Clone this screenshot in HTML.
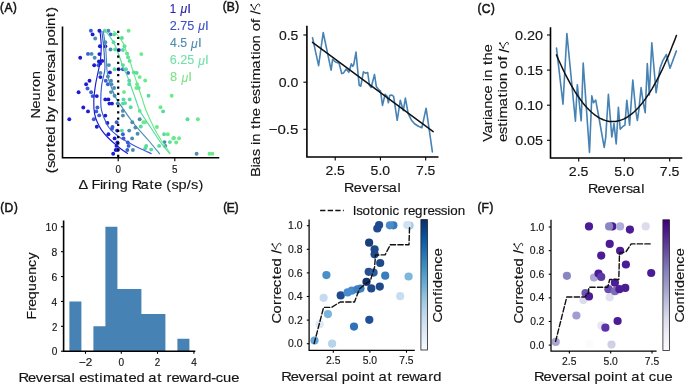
<!DOCTYPE html>
<html><head><meta charset="utf-8"><style>
html,body{margin:0;padding:0;background:#fff;}
svg{display:block;font-family:"Liberation Sans",sans-serif;will-change:transform;}
</style></head><body>
<svg xmlns="http://www.w3.org/2000/svg" width="685" height="385" viewBox="0 0 685 385">
<rect width="685" height="385" fill="#fff"/>
<text x="0.01" y="11.10" font-size="13.00" font-weight="normal" font-style="normal" fill="#141414" textLength="3.84" lengthAdjust="spacingAndGlyphs" stroke="#141414" stroke-width="0.55">(</text>
<text x="13.09" y="11.10" font-size="13.00" font-weight="normal" font-style="normal" fill="#141414" textLength="3.84" lengthAdjust="spacingAndGlyphs" stroke="#141414" stroke-width="0.55">)</text>
<text x="4.43" y="12.00" font-size="13.00" font-weight="normal" font-style="normal" fill="#141414" textLength="8.06" lengthAdjust="spacingAndGlyphs" stroke="#141414" stroke-width="0.55">A</text>
<text x="222.81" y="10.30" font-size="13.00" font-weight="normal" font-style="normal" fill="#141414" textLength="3.84" lengthAdjust="spacingAndGlyphs" stroke="#141414" stroke-width="0.55">(</text>
<text x="235.29" y="10.30" font-size="13.00" font-weight="normal" font-style="normal" fill="#141414" textLength="3.84" lengthAdjust="spacingAndGlyphs" stroke="#141414" stroke-width="0.55">)</text>
<text x="226.75" y="11.20" font-size="13.00" font-weight="normal" font-style="normal" fill="#141414" textLength="8.06" lengthAdjust="spacingAndGlyphs" stroke="#141414" stroke-width="0.55">B</text>
<text x="477.61" y="11.60" font-size="13.00" font-weight="normal" font-style="normal" fill="#141414" textLength="3.84" lengthAdjust="spacingAndGlyphs" stroke="#141414" stroke-width="0.55">(</text>
<text x="490.99" y="11.60" font-size="13.00" font-weight="normal" font-style="normal" fill="#141414" textLength="3.84" lengthAdjust="spacingAndGlyphs" stroke="#141414" stroke-width="0.55">)</text>
<text x="481.76" y="12.50" font-size="13.00" font-weight="normal" font-style="normal" fill="#141414" textLength="8.73" lengthAdjust="spacingAndGlyphs" stroke="#141414" stroke-width="0.55">C</text>
<text x="0.31" y="211.00" font-size="13.00" font-weight="normal" font-style="normal" fill="#141414" textLength="3.84" lengthAdjust="spacingAndGlyphs" stroke="#141414" stroke-width="0.55">(</text>
<text x="14.09" y="211.00" font-size="13.00" font-weight="normal" font-style="normal" fill="#141414" textLength="3.84" lengthAdjust="spacingAndGlyphs" stroke="#141414" stroke-width="0.55">)</text>
<text x="4.54" y="211.90" font-size="13.00" font-weight="normal" font-style="normal" fill="#141414" textLength="8.73" lengthAdjust="spacingAndGlyphs" stroke="#141414" stroke-width="0.55">D</text>
<text x="223.31" y="211.10" font-size="13.00" font-weight="normal" font-style="normal" fill="#141414" textLength="3.84" lengthAdjust="spacingAndGlyphs" stroke="#141414" stroke-width="0.55">(</text>
<text x="234.79" y="211.10" font-size="13.00" font-weight="normal" font-style="normal" fill="#141414" textLength="3.84" lengthAdjust="spacingAndGlyphs" stroke="#141414" stroke-width="0.55">)</text>
<text x="226.69" y="212.00" font-size="13.00" font-weight="normal" font-style="normal" fill="#141414" textLength="8.06" lengthAdjust="spacingAndGlyphs" stroke="#141414" stroke-width="0.55">E</text>
<text x="477.51" y="211.40" font-size="13.00" font-weight="normal" font-style="normal" fill="#141414" textLength="3.84" lengthAdjust="spacingAndGlyphs" stroke="#141414" stroke-width="0.55">(</text>
<text x="489.49" y="211.40" font-size="13.00" font-weight="normal" font-style="normal" fill="#141414" textLength="3.84" lengthAdjust="spacingAndGlyphs" stroke="#141414" stroke-width="0.55">)</text>
<text x="481.47" y="212.30" font-size="13.00" font-weight="normal" font-style="normal" fill="#141414" textLength="7.39" lengthAdjust="spacingAndGlyphs" stroke="#141414" stroke-width="0.55">F</text>
<circle cx="92.6" cy="34.4" r="1.95" fill="#1c1cd0"/>
<circle cx="99.4" cy="30.8" r="1.95" fill="#1c1cd0"/>
<circle cx="99.9" cy="46.3" r="1.95" fill="#1c1cd0"/>
<circle cx="80.2" cy="57.8" r="1.95" fill="#1c1cd0"/>
<circle cx="99.4" cy="54.1" r="1.95" fill="#1c1cd0"/>
<circle cx="98.9" cy="61.4" r="1.95" fill="#1c1cd0"/>
<circle cx="105.3" cy="46.3" r="1.95" fill="#1c1cd0"/>
<circle cx="102.2" cy="60.9" r="1.95" fill="#1c1cd0"/>
<circle cx="118.8" cy="50.0" r="1.95" fill="#1c1cd0"/>
<circle cx="94.2" cy="65.3" r="1.95" fill="#1c1cd0"/>
<circle cx="100.4" cy="77.1" r="1.95" fill="#1c1cd0"/>
<circle cx="89.5" cy="80.7" r="1.95" fill="#1c1cd0"/>
<circle cx="86.1" cy="84.3" r="1.95" fill="#1c1cd0"/>
<circle cx="78.6" cy="92.3" r="1.95" fill="#1c1cd0"/>
<circle cx="96.8" cy="96.1" r="1.95" fill="#1c1cd0"/>
<circle cx="118.6" cy="69.3" r="1.95" fill="#1c1cd0"/>
<circle cx="109.9" cy="72.4" r="1.95" fill="#1c1cd0"/>
<circle cx="105.3" cy="99.4" r="1.95" fill="#1c1cd0"/>
<circle cx="108.4" cy="99.4" r="1.95" fill="#1c1cd0"/>
<circle cx="83.3" cy="107.5" r="1.95" fill="#1c1cd0"/>
<circle cx="88.0" cy="111.4" r="1.95" fill="#1c1cd0"/>
<circle cx="69.3" cy="119.2" r="1.95" fill="#1c1cd0"/>
<circle cx="96.8" cy="126.8" r="1.95" fill="#1c1cd0"/>
<circle cx="109.4" cy="103.6" r="1.95" fill="#1c1cd0"/>
<circle cx="112.0" cy="103.6" r="1.95" fill="#1c1cd0"/>
<circle cx="105.3" cy="115.6" r="1.95" fill="#1c1cd0"/>
<circle cx="107.4" cy="122.9" r="1.95" fill="#1c1cd0"/>
<circle cx="117.2" cy="130.6" r="1.95" fill="#1c1cd0"/>
<circle cx="108.4" cy="134.3" r="1.95" fill="#1c1cd0"/>
<circle cx="114.6" cy="138.4" r="1.95" fill="#1c1cd0"/>
<circle cx="117.4" cy="142.5" r="1.95" fill="#1c1cd0"/>
<circle cx="116.5" cy="145.9" r="1.95" fill="#1c1cd0"/>
<circle cx="115.7" cy="150.0" r="1.95" fill="#1c1cd0"/>
<circle cx="117.8" cy="150.0" r="1.95" fill="#1c1cd0"/>
<circle cx="113.2" cy="153.7" r="1.95" fill="#1c1cd0"/>
<circle cx="100.1" cy="63.6" r="1.95" fill="#1c1cd0"/>
<circle cx="90.9" cy="30.8" r="1.95" fill="#3b5bd6"/>
<circle cx="88.0" cy="53.9" r="1.95" fill="#3b5bd6"/>
<circle cx="110.5" cy="34.4" r="1.95" fill="#3b5bd6"/>
<circle cx="98.4" cy="65.3" r="1.95" fill="#3b5bd6"/>
<circle cx="87.5" cy="88.5" r="1.95" fill="#3b5bd6"/>
<circle cx="91.1" cy="92.3" r="1.95" fill="#3b5bd6"/>
<circle cx="92.6" cy="96.1" r="1.95" fill="#3b5bd6"/>
<circle cx="122.9" cy="69.3" r="1.95" fill="#3b5bd6"/>
<circle cx="128.1" cy="72.9" r="1.95" fill="#3b5bd6"/>
<circle cx="105.8" cy="80.7" r="1.95" fill="#3b5bd6"/>
<circle cx="107.9" cy="84.3" r="1.95" fill="#3b5bd6"/>
<circle cx="97.4" cy="107.5" r="1.95" fill="#3b5bd6"/>
<circle cx="96.3" cy="111.4" r="1.95" fill="#3b5bd6"/>
<circle cx="99.2" cy="115.4" r="1.95" fill="#3b5bd6"/>
<circle cx="93.8" cy="119.2" r="1.95" fill="#3b5bd6"/>
<circle cx="116.7" cy="122.3" r="1.95" fill="#3b5bd6"/>
<circle cx="112.5" cy="127.0" r="1.95" fill="#3b5bd6"/>
<circle cx="122.9" cy="134.3" r="1.95" fill="#3b5bd6"/>
<circle cx="123.5" cy="138.4" r="1.95" fill="#3b5bd6"/>
<circle cx="112.0" cy="128.8" r="1.95" fill="#3b5bd6"/>
<circle cx="127.8" cy="142.5" r="1.95" fill="#3b5bd6"/>
<circle cx="128.6" cy="145.9" r="1.95" fill="#3b5bd6"/>
<circle cx="127.3" cy="150.0" r="1.95" fill="#3b5bd6"/>
<circle cx="95.2" cy="38.5" r="1.95" fill="#4a8db3"/>
<circle cx="91.6" cy="53.9" r="1.95" fill="#4a8db3"/>
<circle cx="94.7" cy="57.8" r="1.95" fill="#4a8db3"/>
<circle cx="108.4" cy="30.8" r="1.95" fill="#4a8db3"/>
<circle cx="105.3" cy="42.2" r="1.95" fill="#4a8db3"/>
<circle cx="110.5" cy="49.5" r="1.95" fill="#4a8db3"/>
<circle cx="100.4" cy="72.9" r="1.95" fill="#4a8db3"/>
<circle cx="108.9" cy="65.1" r="1.95" fill="#4a8db3"/>
<circle cx="107.9" cy="76.5" r="1.95" fill="#4a8db3"/>
<circle cx="111.0" cy="80.7" r="1.95" fill="#4a8db3"/>
<circle cx="111.5" cy="84.3" r="1.95" fill="#4a8db3"/>
<circle cx="114.1" cy="88.0" r="1.95" fill="#4a8db3"/>
<circle cx="111.0" cy="92.1" r="1.95" fill="#4a8db3"/>
<circle cx="114.6" cy="95.8" r="1.95" fill="#4a8db3"/>
<circle cx="117.7" cy="103.6" r="1.95" fill="#4a8db3"/>
<circle cx="122.9" cy="110.9" r="1.95" fill="#4a8db3"/>
<circle cx="122.9" cy="115.6" r="1.95" fill="#4a8db3"/>
<circle cx="132.3" cy="122.3" r="1.95" fill="#4a8db3"/>
<circle cx="129.2" cy="130.6" r="1.95" fill="#4a8db3"/>
<circle cx="135.4" cy="127.5" r="1.95" fill="#4a8db3"/>
<circle cx="139.7" cy="119.2" r="1.95" fill="#4a8db3"/>
<circle cx="137.6" cy="133.8" r="1.95" fill="#4a8db3"/>
<circle cx="132.1" cy="138.4" r="1.95" fill="#4a8db3"/>
<circle cx="132.9" cy="150.0" r="1.95" fill="#4a8db3"/>
<circle cx="164.5" cy="142.1" r="1.95" fill="#4a8db3"/>
<circle cx="165.3" cy="145.9" r="1.95" fill="#4a8db3"/>
<circle cx="196.6" cy="153.7" r="1.95" fill="#4a8db3"/>
<circle cx="104.8" cy="30.8" r="1.95" fill="#58dba0"/>
<circle cx="114.1" cy="34.4" r="1.95" fill="#58dba0"/>
<circle cx="121.9" cy="38.0" r="1.95" fill="#58dba0"/>
<circle cx="113.6" cy="42.2" r="1.95" fill="#58dba0"/>
<circle cx="124.5" cy="46.3" r="1.95" fill="#58dba0"/>
<circle cx="115.1" cy="49.5" r="1.95" fill="#58dba0"/>
<circle cx="122.9" cy="50.0" r="1.95" fill="#58dba0"/>
<circle cx="127.1" cy="53.6" r="1.95" fill="#58dba0"/>
<circle cx="128.1" cy="57.2" r="1.95" fill="#58dba0"/>
<circle cx="129.7" cy="60.9" r="1.95" fill="#58dba0"/>
<circle cx="114.6" cy="69.3" r="1.95" fill="#58dba0"/>
<circle cx="126.1" cy="69.3" r="1.95" fill="#58dba0"/>
<circle cx="122.9" cy="65.1" r="1.95" fill="#58dba0"/>
<circle cx="133.8" cy="72.4" r="1.95" fill="#58dba0"/>
<circle cx="129.2" cy="80.7" r="1.95" fill="#58dba0"/>
<circle cx="129.2" cy="84.3" r="1.95" fill="#58dba0"/>
<circle cx="123.5" cy="99.4" r="1.95" fill="#58dba0"/>
<circle cx="129.7" cy="99.4" r="1.95" fill="#58dba0"/>
<circle cx="136.6" cy="72.9" r="1.95" fill="#58dba0"/>
<circle cx="138.7" cy="88.0" r="1.95" fill="#58dba0"/>
<circle cx="148.5" cy="95.8" r="1.95" fill="#58dba0"/>
<circle cx="122.9" cy="103.6" r="1.95" fill="#58dba0"/>
<circle cx="125.0" cy="103.1" r="1.95" fill="#58dba0"/>
<circle cx="130.7" cy="107.3" r="1.95" fill="#58dba0"/>
<circle cx="121.9" cy="130.6" r="1.95" fill="#58dba0"/>
<circle cx="163.1" cy="111.4" r="1.95" fill="#58dba0"/>
<circle cx="140.8" cy="126.5" r="1.95" fill="#58dba0"/>
<circle cx="164.1" cy="134.3" r="1.95" fill="#58dba0"/>
<circle cx="187.5" cy="119.2" r="1.95" fill="#58dba0"/>
<circle cx="173.9" cy="138.0" r="1.95" fill="#58dba0"/>
<circle cx="146.2" cy="145.9" r="1.95" fill="#58dba0"/>
<circle cx="145.3" cy="148.3" r="1.95" fill="#58dba0"/>
<circle cx="151.2" cy="149.6" r="1.95" fill="#58dba0"/>
<circle cx="169.9" cy="142.1" r="1.95" fill="#58dba0"/>
<circle cx="159.1" cy="145.9" r="1.95" fill="#58dba0"/>
<circle cx="128.6" cy="30.8" r="1.95" fill="#6aeb88"/>
<circle cx="141.3" cy="54.1" r="1.95" fill="#6aeb88"/>
<circle cx="124.0" cy="92.1" r="1.95" fill="#6aeb88"/>
<circle cx="136.4" cy="88.0" r="1.95" fill="#6aeb88"/>
<circle cx="139.7" cy="77.1" r="1.95" fill="#6aeb88"/>
<circle cx="145.2" cy="80.5" r="1.95" fill="#6aeb88"/>
<circle cx="137.1" cy="84.3" r="1.95" fill="#6aeb88"/>
<circle cx="171.7" cy="95.8" r="1.95" fill="#6aeb88"/>
<circle cx="160.5" cy="107.3" r="1.95" fill="#6aeb88"/>
<circle cx="139.7" cy="110.9" r="1.95" fill="#6aeb88"/>
<circle cx="143.4" cy="122.3" r="1.95" fill="#6aeb88"/>
<circle cx="144.9" cy="122.3" r="1.95" fill="#6aeb88"/>
<circle cx="156.9" cy="127.0" r="1.95" fill="#6aeb88"/>
<circle cx="167.8" cy="134.3" r="1.95" fill="#6aeb88"/>
<circle cx="173.3" cy="138.4" r="1.95" fill="#6aeb88"/>
<circle cx="197.9" cy="119.2" r="1.95" fill="#6aeb88"/>
<circle cx="179.1" cy="138.2" r="1.95" fill="#6aeb88"/>
<circle cx="176.2" cy="142.5" r="1.95" fill="#6aeb88"/>
<circle cx="209.5" cy="153.7" r="1.95" fill="#6aeb88"/>
<circle cx="212.4" cy="153.7" r="1.95" fill="#6aeb88"/>
<path d="M100.00 31.00 C100.20 33.33 101.12 40.17 101.20 45.00 C101.28 49.83 100.95 55.83 100.50 60.00 C100.05 64.17 99.35 65.73 98.50 70.00 C97.65 74.27 96.18 80.38 95.40 85.60 C94.62 90.82 93.93 96.60 93.80 101.30 C93.67 106.00 93.95 110.17 94.60 113.80 C95.25 117.43 96.53 120.37 97.70 123.10 C98.87 125.83 99.98 127.88 101.60 130.20 C103.22 132.52 105.17 134.70 107.40 137.00 C109.63 139.30 112.73 142.00 115.00 144.00 C117.27 146.00 118.87 147.38 121.00 149.00 C123.13 150.62 126.67 152.92 127.80 153.70" fill="none" stroke="#1c1cd0" stroke-width="1.15" stroke-linejoin="round"/>
<path d="M101.80 31.00 C102.10 33.50 103.13 41.17 103.60 46.00 C104.07 50.83 104.40 56.00 104.60 60.00 C104.80 64.00 105.30 65.73 104.80 70.00 C104.30 74.27 102.27 80.38 101.60 85.60 C100.93 90.82 100.80 97.13 100.80 101.30 C100.80 105.47 100.68 106.97 101.60 110.60 C102.52 114.23 104.73 119.83 106.30 123.10 C107.87 126.37 108.75 127.82 111.00 130.20 C113.25 132.58 117.47 135.68 119.80 137.40 C122.13 139.12 121.97 138.82 125.00 140.50 C128.03 142.18 133.57 145.30 138.00 147.50 C142.43 149.70 149.33 152.67 151.60 153.70" fill="none" stroke="#3b5bd6" stroke-width="1.15" stroke-linejoin="round"/>
<path d="M103.20 31.00 C103.58 33.50 104.97 41.33 105.50 46.00 C106.03 50.67 106.15 55.00 106.40 59.00 C106.65 63.00 106.67 66.73 107.00 70.00 C107.33 73.27 107.57 75.43 108.40 78.60 C109.23 81.77 110.53 85.37 112.00 89.00 C113.47 92.63 115.20 96.90 117.20 100.40 C119.20 103.90 121.70 106.73 124.00 110.00 C126.30 113.27 128.67 116.90 131.00 120.00 C133.33 123.10 135.00 125.10 138.00 128.60 C141.00 132.10 145.35 136.73 149.00 141.00 C152.65 145.27 158.08 152.00 159.90 154.20" fill="none" stroke="#4a8db3" stroke-width="1.15" stroke-linejoin="round"/>
<path d="M105.00 30.80 C105.67 31.57 107.60 33.48 109.00 35.40 C110.40 37.32 112.15 40.12 113.40 42.30 C114.65 44.48 115.65 46.55 116.50 48.50 C117.35 50.45 117.73 51.88 118.50 54.00 C119.27 56.12 120.32 58.87 121.10 61.20 C121.88 63.53 122.20 65.60 123.20 68.00 C124.20 70.40 125.58 71.95 127.10 75.60 C128.62 79.25 130.83 85.83 132.30 89.90 C133.77 93.97 134.72 96.65 135.90 100.00 C137.08 103.35 137.88 106.83 139.40 110.00 C140.92 113.17 143.07 116.00 145.00 119.00 C146.93 122.00 148.68 124.50 151.00 128.00 C153.32 131.50 156.73 136.83 158.90 140.00 C161.07 143.17 162.17 144.72 164.00 147.00 C165.83 149.28 168.92 152.58 169.90 153.70" fill="none" stroke="#58dba0" stroke-width="1.15" stroke-linejoin="round"/>
<path d="M113.50 30.80 C114.17 31.50 116.03 33.20 117.50 35.00 C118.97 36.80 121.05 39.60 122.30 41.60 C123.55 43.60 124.23 44.93 125.00 47.00 C125.77 49.07 126.07 51.63 126.90 54.00 C127.73 56.37 129.15 58.87 130.00 61.20 C130.85 63.53 131.18 65.38 132.00 68.00 C132.82 70.62 133.55 72.82 134.90 76.90 C136.25 80.98 138.82 88.65 140.10 92.50 C141.38 96.35 141.63 97.08 142.60 100.00 C143.57 102.92 143.98 105.33 145.90 110.00 C147.82 114.67 151.58 123.00 154.10 128.00 C156.62 133.00 159.02 136.83 161.00 140.00 C162.98 143.17 164.45 144.72 166.00 147.00 C167.55 149.28 169.58 152.58 170.30 153.70" fill="none" stroke="#6aeb88" stroke-width="1.15" stroke-linejoin="round"/>
<line x1="118.2" y1="30.7" x2="118.2" y2="157.0" stroke="#000" stroke-width="2.2" stroke-dasharray="2.2 4.0"/>
<path d="M62.50 26.50 L62.50 157.70 L219.30 157.70" fill="none" stroke="#000" stroke-width="1.6" stroke-linejoin="miter" stroke-linecap="butt"/>
<line x1="118.20" y1="157.70" x2="118.20" y2="161.20" stroke="#000" stroke-width="1.1" />
<line x1="174.80" y1="157.70" x2="174.80" y2="161.20" stroke="#000" stroke-width="1.1" />
<text x="115.46" y="172.80" font-size="10.30" font-weight="normal" font-style="normal" fill="#141414" textLength="5.45" lengthAdjust="spacingAndGlyphs" stroke="#141414" stroke-width="0.14">0</text>
<text x="172.05" y="172.80" font-size="10.30" font-weight="normal" font-style="normal" fill="#141414" textLength="5.50" lengthAdjust="spacingAndGlyphs" stroke="#141414" stroke-width="0.14">5</text>
<g transform="translate(79.10 188.60) scale(1.0821 1)"><text x="-0.46 8.17 11.43 19.22 21.97 26.69 29.99 37.60 45.21 48.64 57.01 65.13 69.47 76.85 80.52 85.33 91.93 99.60 103.42 110.34" y="0" font-size="13.40" font-weight="normal" font-style="normal" fill="#141414" stroke="#141414" stroke-width="0.14">Δ Firing Rate (sp/s)</text></g>
<g transform="translate(40.20 116.90) rotate(-90) scale(1.0731 1)"><text x="-1.50 7.91 15.38 23.44 27.94 35.22" y="0" font-size="13.40" font-weight="normal" font-style="normal" fill="#141414" stroke="#141414" stroke-width="0.14">Neuron</text></g>
<g transform="translate(54.50 171.80) rotate(-90) scale(1.1162 1)"><text x="-1.27 3.32 9.48 17.10 21.92 26.02 33.19 40.64 44.36 51.78 58.62 62.69 67.03 74.10 80.83 88.43 92.62 98.31 106.21 109.29 113.00 120.24 127.66 130.74 138.50 143.08" y="0" font-size="13.40" font-weight="normal" font-style="normal" fill="#141414" stroke="#141414" stroke-width="0.14">(sorted by reversal point)</text></g>
<text x="169.74" y="13.00" font-size="12.10" font-weight="normal" font-style="normal" fill="#2a20a8" textLength="6.39" lengthAdjust="spacingAndGlyphs" stroke="#2a20a8" stroke-width="0.1">1</text>
<text x="180.44" y="13.30" font-size="12.20" font-weight="normal" font-style="italic" fill="#2a20a8" textLength="6.67" lengthAdjust="spacingAndGlyphs" stroke="#2a20a8" stroke-width="0.1">μ</text>
<text x="187.56" y="13.00" font-size="12.20" font-weight="normal" font-style="normal" fill="#2a20a8" textLength="3.21" lengthAdjust="spacingAndGlyphs" stroke="#2a20a8" stroke-width="0.1">l</text>
<g transform="translate(170.60 30.10) scale(1.0439 1)"><text x="-0.93 5.94 9.27 15.98" y="0" font-size="12.10" font-weight="normal" font-style="normal" fill="#3d4fc8" stroke="#3d4fc8" stroke-width="0.1">2.75</text></g>
<text x="198.24" y="30.40" font-size="12.20" font-weight="normal" font-style="italic" fill="#3d4fc8" textLength="6.67" lengthAdjust="spacingAndGlyphs" stroke="#3d4fc8" stroke-width="0.1">μ</text>
<text x="205.36" y="30.10" font-size="12.20" font-weight="normal" font-style="normal" fill="#3d4fc8" textLength="3.21" lengthAdjust="spacingAndGlyphs" stroke="#3d4fc8" stroke-width="0.1">l</text>
<g transform="translate(170.60 47.20) scale(1.0137 1)"><text x="-0.49 6.20 9.51" y="0" font-size="12.10" font-weight="normal" font-style="normal" fill="#4d8bad" stroke="#4d8bad" stroke-width="0.1">4.5</text></g>
<text x="191.04" y="47.50" font-size="12.20" font-weight="normal" font-style="italic" fill="#4d8bad" textLength="6.67" lengthAdjust="spacingAndGlyphs" stroke="#4d8bad" stroke-width="0.1">μ</text>
<text x="198.16" y="47.20" font-size="12.20" font-weight="normal" font-style="normal" fill="#4d8bad" textLength="3.21" lengthAdjust="spacingAndGlyphs" stroke="#4d8bad" stroke-width="0.1">l</text>
<g transform="translate(170.60 64.30) scale(1.0414 1)"><text x="-0.75 5.99 9.22 16.03" y="0" font-size="12.10" font-weight="normal" font-style="normal" fill="#72e1aa" stroke="#72e1aa" stroke-width="0.1">6.25</text></g>
<text x="198.24" y="64.60" font-size="12.20" font-weight="normal" font-style="italic" fill="#72e1aa" textLength="6.67" lengthAdjust="spacingAndGlyphs" stroke="#72e1aa" stroke-width="0.1">μ</text>
<text x="205.36" y="64.30" font-size="12.20" font-weight="normal" font-style="normal" fill="#72e1aa" textLength="3.21" lengthAdjust="spacingAndGlyphs" stroke="#72e1aa" stroke-width="0.1">l</text>
<text x="170.03" y="81.40" font-size="12.10" font-weight="normal" font-style="normal" fill="#7ee288" textLength="7.10" lengthAdjust="spacingAndGlyphs" stroke="#7ee288" stroke-width="0.1">8</text>
<text x="181.44" y="81.70" font-size="12.20" font-weight="normal" font-style="italic" fill="#7ee288" textLength="6.67" lengthAdjust="spacingAndGlyphs" stroke="#7ee288" stroke-width="0.1">μ</text>
<text x="188.56" y="81.40" font-size="12.20" font-weight="normal" font-style="normal" fill="#7ee288" textLength="3.21" lengthAdjust="spacingAndGlyphs" stroke="#7ee288" stroke-width="0.1">l</text>
<path d="M312.5 37.7 L318.6 65.7 L323.2 32.5 L331.1 70.2 L332.6 59.3 L335.5 62.0 L339.1 63.2 L341.7 73.6 L343.6 72.9 L346.2 69.0 L348.8 72.3 L351.4 63.8 L352.7 66.4 L353.7 64.8 L356.0 52.1 L357.9 72.3 L359.2 85.3 L360.8 86.2 L363.4 71.9 L365.4 73.2 L367.7 72.5 L369.5 85.5 L371.2 87.5 L374.5 74.5 L376.4 86.8 L379.0 90.0 L380.5 91.0 L382.5 105.4 L385.1 94.3 L387.1 96.3 L388.4 102.8 L389.7 95.6 L391.6 95.0 L393.6 96.3 L397.2 120.3 L398.8 110.0 L400.3 100.2 L403.3 110.6 L405.4 98.1 L408.2 113.7 L411.3 119.9 L414.5 123.8 L418.4 126.2 L421.9 127.7 L426.1 108.2 L428.5 124.6 L432.4 151.9" fill="none" stroke="#4682b4" stroke-width="1.6" stroke-linejoin="round" stroke-linecap="round" />
<path d="M312.5 42.3 L433.2 131.6" fill="none" stroke="#111" stroke-width="1.5" stroke-linejoin="round" stroke-linecap="round" />
<path d="M306.90 25.80 L306.90 157.00 L438.50 157.00" fill="none" stroke="#000" stroke-width="1.6" stroke-linejoin="miter" stroke-linecap="butt"/>
<line x1="303.40" y1="35.00" x2="306.90" y2="35.00" stroke="#000" stroke-width="1.1" />
<line x1="303.40" y1="82.20" x2="306.90" y2="82.20" stroke="#000" stroke-width="1.1" />
<line x1="303.40" y1="129.30" x2="306.90" y2="129.30" stroke="#000" stroke-width="1.1" />
<line x1="335.20" y1="157.00" x2="335.20" y2="160.50" stroke="#000" stroke-width="1.1" />
<line x1="380.40" y1="157.00" x2="380.40" y2="160.50" stroke="#000" stroke-width="1.1" />
<line x1="425.70" y1="157.00" x2="425.70" y2="160.50" stroke="#000" stroke-width="1.1" />
<text x="278.95" y="39.70" font-size="13.20" font-weight="normal" font-style="normal" fill="#141414" textLength="19.41" lengthAdjust="spacingAndGlyphs" stroke="#141414" stroke-width="0.14">0.5</text>
<text x="278.69" y="86.90" font-size="13.20" font-weight="normal" font-style="normal" fill="#141414" textLength="19.60" lengthAdjust="spacingAndGlyphs" stroke="#141414" stroke-width="0.14">0.0</text>
<text x="268.66" y="134.00" font-size="13.20" font-weight="normal" font-style="normal" fill="#141414" textLength="29.73" lengthAdjust="spacingAndGlyphs" stroke="#141414" stroke-width="0.14">−0.5</text>
<text x="325.42" y="175.10" font-size="13.20" font-weight="normal" font-style="normal" fill="#141414" textLength="19.42" lengthAdjust="spacingAndGlyphs" stroke="#141414" stroke-width="0.14">2.5</text>
<text x="370.63" y="175.10" font-size="13.20" font-weight="normal" font-style="normal" fill="#141414" textLength="19.47" lengthAdjust="spacingAndGlyphs" stroke="#141414" stroke-width="0.14">5.0</text>
<text x="415.96" y="175.10" font-size="13.20" font-weight="normal" font-style="normal" fill="#141414" textLength="19.35" lengthAdjust="spacingAndGlyphs" stroke="#141414" stroke-width="0.14">7.5</text>
<g transform="translate(345.80 192.30) scale(1.0659 1)"><text x="-1.58 7.45 14.63 21.76 29.74 34.21 40.26 48.47" y="0" font-size="13.40" font-weight="normal" font-style="normal" fill="#141414" stroke="#141414" stroke-width="0.14">Reversal</text></g>
<g transform="translate(259.90 175.20) rotate(-90) scale(1.1094 1)"><text x="-1.65 7.00 9.47 17.00 23.31 27.17 30.27 37.65 41.75 45.91 53.26 60.50 64.15 71.17 77.86 82.20 85.41 96.05 104.19 108.53 111.48 118.77 126.15 129.72 137.29" y="0" font-size="13.40" font-weight="normal" font-style="normal" fill="#141414" stroke="#141414" stroke-width="0.14">Bias in the estimation of</text></g>
<g transform="translate(259.90 13.60) rotate(-90) scale(1.000)" fill="none" stroke="#141414" stroke-linecap="round" stroke-linejoin="round"><path d="M0 0 L2.4 -9.2" stroke-width="1.3"/><path d="M8.6 -8.6 L3.6 -5.5" stroke-width="0.9"/><circle cx="8.6" cy="-8.6" r="0.95" fill="#141414" stroke="none"/><path d="M3.8 -5.3 C6.0 -4.6 9.4 -3.2 9.6 -1.7 C9.8 -0.3 8.4 0.2 7.5 -0.3" stroke-width="0.9"/></g>
<path d="M556.5 48.1 L563.0 104.2 L566.9 33.5 L575.4 121.1 L577.3 84.7 L581.2 120.8 L583.2 63.1 L589.5 152.4 L591.8 95.9 L593.5 102.7 L595.7 100.1 L599.0 118.0 L604.2 147.4 L605.7 137.6 L608.4 94.2 L611.8 137.0 L614.0 123.6 L616.2 144.0 L618.4 107.3 L620.2 129.1 L622.6 126.7 L624.9 125.2 L626.8 100.2 L629.6 125.2 L632.8 80.0 L635.8 111.2 L637.4 120.5 L638.9 109.6 L641.1 87.5 L643.3 103.0 L645.2 112.7 L647.3 63.6 L649.3 95.0 L651.8 42.7 L656.1 92.7 L660.0 68.2 L662.7 60.9 L666.4 54.5 L670.0 68.2 L676.4 50.9" fill="none" stroke="#4682b4" stroke-width="1.6" stroke-linejoin="round" stroke-linecap="round" />
<path d="M556.5 54.9 L558.5 59.7 L560.6 64.2 L562.6 68.6 L564.6 72.8 L566.7 76.9 L568.7 80.7 L570.7 84.4 L572.8 87.9 L574.8 91.3 L576.8 94.5 L578.9 97.4 L580.9 100.3 L582.9 102.9 L585.0 105.4 L587.0 107.7 L589.0 109.8 L591.0 111.7 L593.1 113.5 L595.1 115.1 L597.1 116.5 L599.2 117.8 L601.2 118.8 L603.2 119.7 L605.3 120.4 L607.3 121.0 L609.3 121.4 L611.4 121.5 L613.4 121.6 L615.4 121.4 L617.5 121.1 L619.5 120.6 L621.5 119.9 L623.6 119.1 L625.6 118.0 L627.6 116.8 L629.7 115.4 L631.7 113.9 L633.7 112.2 L635.8 110.3 L637.8 108.2 L639.8 105.9 L641.9 103.5 L643.9 100.9 L645.9 98.1 L647.9 95.2 L650.0 92.1 L652.0 88.8 L654.0 85.3 L656.1 81.6 L658.1 77.8 L660.1 73.8 L662.2 69.6 L664.2 65.3 L666.2 60.8 L668.3 56.1 L670.3 51.2 L672.3 46.1 L674.4 40.9 L676.4 35.5" fill="none" stroke="#111" stroke-width="1.5" stroke-linejoin="round" stroke-linecap="round" />
<path d="M550.50 27.30 L550.50 158.00 L682.30 158.00" fill="none" stroke="#000" stroke-width="1.6" stroke-linejoin="miter" stroke-linecap="butt"/>
<line x1="547.00" y1="35.00" x2="550.50" y2="35.00" stroke="#000" stroke-width="1.1" />
<line x1="547.00" y1="70.10" x2="550.50" y2="70.10" stroke="#000" stroke-width="1.1" />
<line x1="547.00" y1="105.20" x2="550.50" y2="105.20" stroke="#000" stroke-width="1.1" />
<line x1="547.00" y1="140.30" x2="550.50" y2="140.30" stroke="#000" stroke-width="1.1" />
<line x1="578.70" y1="158.00" x2="578.70" y2="161.50" stroke="#000" stroke-width="1.1" />
<line x1="624.30" y1="158.00" x2="624.30" y2="161.50" stroke="#000" stroke-width="1.1" />
<line x1="669.70" y1="158.00" x2="669.70" y2="161.50" stroke="#000" stroke-width="1.1" />
<text x="514.90" y="39.80" font-size="13.20" font-weight="normal" font-style="normal" fill="#141414" textLength="28.13" lengthAdjust="spacingAndGlyphs" stroke="#141414" stroke-width="0.14">0.20</text>
<text x="515.16" y="74.90" font-size="13.20" font-weight="normal" font-style="normal" fill="#141414" textLength="27.93" lengthAdjust="spacingAndGlyphs" stroke="#141414" stroke-width="0.14">0.15</text>
<text x="514.90" y="110.00" font-size="13.20" font-weight="normal" font-style="normal" fill="#141414" textLength="28.13" lengthAdjust="spacingAndGlyphs" stroke="#141414" stroke-width="0.14">0.10</text>
<text x="515.16" y="145.10" font-size="13.20" font-weight="normal" font-style="normal" fill="#141414" textLength="27.93" lengthAdjust="spacingAndGlyphs" stroke="#141414" stroke-width="0.14">0.05</text>
<text x="568.77" y="176.00" font-size="13.20" font-weight="normal" font-style="normal" fill="#141414" textLength="19.73" lengthAdjust="spacingAndGlyphs" stroke="#141414" stroke-width="0.14">2.5</text>
<text x="614.38" y="176.00" font-size="13.20" font-weight="normal" font-style="normal" fill="#141414" textLength="19.77" lengthAdjust="spacingAndGlyphs" stroke="#141414" stroke-width="0.14">5.0</text>
<text x="659.80" y="176.00" font-size="13.20" font-weight="normal" font-style="normal" fill="#141414" textLength="19.66" lengthAdjust="spacingAndGlyphs" stroke="#141414" stroke-width="0.14">7.5</text>
<g transform="translate(589.60 193.20) scale(1.0679 1)"><text x="-1.58 7.45 14.63 21.76 29.74 34.21 40.26 48.47" y="0" font-size="13.40" font-weight="normal" font-style="normal" fill="#141414" stroke="#141414" stroke-width="0.14">Reversal</text></g>
<g transform="translate(492.20 141.20) rotate(-90) scale(1.0979 1)"><text x="-0.54 7.36 14.63 19.25 21.78 29.61 36.78 43.46 50.74 54.66 57.80 65.22 69.37 73.59 81.00" y="0" font-size="13.40" font-weight="normal" font-style="normal" fill="#141414" stroke="#141414" stroke-width="0.14">Variance in the</text></g>
<g transform="translate(506.90 141.20) rotate(-90) scale(1.1275 1)"><text x="-0.75 6.20 12.83 17.12 20.24 30.77 38.85 43.14 46.03 53.23 60.56 64.05 71.55" y="0" font-size="13.40" font-weight="normal" font-style="normal" fill="#141414" stroke="#141414" stroke-width="0.14">estimation of</text></g>
<g transform="translate(508.60 51.90) rotate(-90) scale(1.000)" fill="none" stroke="#141414" stroke-linecap="round" stroke-linejoin="round"><path d="M0 0 L2.4 -9.2" stroke-width="1.3"/><path d="M8.6 -8.6 L3.6 -5.5" stroke-width="0.9"/><circle cx="8.6" cy="-8.6" r="0.95" fill="#141414" stroke="none"/><path d="M3.8 -5.3 C6.0 -4.6 9.4 -3.2 9.6 -1.7 C9.8 -0.3 8.4 0.2 7.5 -0.3" stroke-width="0.9"/></g>
<path d="M69.40 351.20 L69.40 301.44 L81.40 301.44 L81.40 351.20 Z M93.40 351.20 L93.40 326.32 L105.40 326.32 L105.40 226.80 L117.40 226.80 L117.40 289.00 L129.40 289.00 L129.40 289.00 L141.40 289.00 L141.40 313.88 L153.40 313.88 L153.40 313.88 L165.40 313.88 L165.40 351.20 Z M177.40 351.20 L177.40 338.76 L189.40 338.76 L189.40 351.20 Z" fill="#4682b4"/>
<path d="M63.60 220.40 L63.60 351.20 L195.30 351.20" fill="none" stroke="#000" stroke-width="1.6" stroke-linejoin="miter" stroke-linecap="butt"/>
<line x1="61.00" y1="351.20" x2="63.60" y2="351.20" stroke="#000" stroke-width="1.1" />
<line x1="61.00" y1="326.32" x2="63.60" y2="326.32" stroke="#000" stroke-width="1.1" />
<line x1="61.00" y1="301.44" x2="63.60" y2="301.44" stroke="#000" stroke-width="1.1" />
<line x1="61.00" y1="276.56" x2="63.60" y2="276.56" stroke="#000" stroke-width="1.1" />
<line x1="61.00" y1="251.68" x2="63.60" y2="251.68" stroke="#000" stroke-width="1.1" />
<line x1="61.00" y1="226.80" x2="63.60" y2="226.80" stroke="#000" stroke-width="1.1" />
<text x="51.65" y="355.40" font-size="10.50" font-weight="normal" font-style="normal" fill="#141414" textLength="5.62" lengthAdjust="spacingAndGlyphs" stroke="#141414" stroke-width="0.14">0</text>
<text x="52.00" y="330.52" font-size="10.50" font-weight="normal" font-style="normal" fill="#141414" textLength="5.40" lengthAdjust="spacingAndGlyphs" stroke="#141414" stroke-width="0.14">2</text>
<text x="51.61" y="305.64" font-size="10.50" font-weight="normal" font-style="normal" fill="#141414" textLength="5.60" lengthAdjust="spacingAndGlyphs" stroke="#141414" stroke-width="0.14">4</text>
<text x="51.53" y="280.76" font-size="10.50" font-weight="normal" font-style="normal" fill="#141414" textLength="5.80" lengthAdjust="spacingAndGlyphs" stroke="#141414" stroke-width="0.14">6</text>
<text x="51.59" y="255.88" font-size="10.50" font-weight="normal" font-style="normal" fill="#141414" textLength="5.74" lengthAdjust="spacingAndGlyphs" stroke="#141414" stroke-width="0.14">8</text>
<text x="45.60" y="231.00" font-size="10.50" font-weight="normal" font-style="normal" fill="#141414" textLength="11.69" lengthAdjust="spacingAndGlyphs" stroke="#141414" stroke-width="0.14">10</text>
<line x1="85.50" y1="351.20" x2="85.50" y2="353.80" stroke="#000" stroke-width="1.1" />
<line x1="121.30" y1="351.20" x2="121.30" y2="353.80" stroke="#000" stroke-width="1.1" />
<line x1="157.50" y1="351.20" x2="157.50" y2="353.80" stroke="#000" stroke-width="1.1" />
<line x1="193.90" y1="351.20" x2="193.90" y2="353.80" stroke="#000" stroke-width="1.1" />
<text x="78.82" y="365.50" font-size="10.50" font-weight="normal" font-style="normal" fill="#141414" textLength="13.37" lengthAdjust="spacingAndGlyphs" stroke="#141414" stroke-width="0.14">−2</text>
<text x="118.47" y="365.50" font-size="10.50" font-weight="normal" font-style="normal" fill="#141414" textLength="5.62" lengthAdjust="spacingAndGlyphs" stroke="#141414" stroke-width="0.14">0</text>
<text x="154.81" y="365.50" font-size="10.50" font-weight="normal" font-style="normal" fill="#141414" textLength="5.40" lengthAdjust="spacingAndGlyphs" stroke="#141414" stroke-width="0.14">2</text>
<text x="191.15" y="365.50" font-size="10.50" font-weight="normal" font-style="normal" fill="#141414" textLength="5.60" lengthAdjust="spacingAndGlyphs" stroke="#141414" stroke-width="0.14">4</text>
<g transform="translate(20.40 381.70) scale(1.0995 1)"><text x="-1.71 7.03 13.95 20.80 28.52 32.80 38.59 46.59 49.69 53.45 60.57 67.35 71.75 75.07 85.85 94.09 98.29 105.59 113.11 116.32 124.56 128.78 132.96 137.40 144.41 153.58 161.81 166.27 173.49 177.63 184.38 191.86" y="0" font-size="13.40" font-weight="normal" font-style="normal" fill="#141414" stroke="#141414" stroke-width="0.14">Reversal estimated at reward-cue</text></g>
<g transform="translate(36.30 317.50) rotate(-90) scale(1.0534 1)"><text x="-1.78 6.34 10.09 17.37 25.16 32.90 40.53 47.98 55.07" y="0" font-size="13.40" font-weight="normal" font-style="normal" fill="#141414" stroke="#141414" stroke-width="0.14">Frequency</text></g>
<circle cx="314.5" cy="340.6" r="4.1" fill="#6aa6d4"/>
<circle cx="332.1" cy="343.7" r="4.1" fill="#b8d4ea"/>
<circle cx="319.7" cy="324.3" r="4.1" fill="#dfe9f4"/>
<circle cx="327.9" cy="314.1" r="4.1" fill="#7ab3dc"/>
<circle cx="323.6" cy="297.8" r="4.1" fill="#c6dbef"/>
<circle cx="326.4" cy="275.1" r="4.1" fill="#4a90c8"/>
<circle cx="340.7" cy="295.4" r="4.1" fill="#1e4b8f"/>
<circle cx="347.6" cy="292.4" r="4.1" fill="#4a8ccb"/>
<circle cx="351.8" cy="290.7" r="4.1" fill="#4a8ccb"/>
<circle cx="354" cy="326.6" r="4.1" fill="#3070b8"/>
<circle cx="357.4" cy="289.4" r="4.1" fill="#3e7fc0"/>
<circle cx="360.5" cy="288.5" r="4.1" fill="#3e7fc0"/>
<circle cx="366.5" cy="281.8" r="4.1" fill="#14306a"/>
<circle cx="369.3" cy="319.8" r="4.1" fill="#1f4f94"/>
<circle cx="368.7" cy="271.8" r="4.1" fill="#254f90"/>
<circle cx="373.6" cy="272.6" r="4.1" fill="#2c5c9c"/>
<circle cx="371.3" cy="288.4" r="4.1" fill="#1f4a8a"/>
<circle cx="379.8" cy="286.6" r="4.1" fill="#1f4a8a"/>
<circle cx="385.2" cy="275.7" r="4.1" fill="#3a7cc0"/>
<circle cx="380.2" cy="263" r="4.1" fill="#1f4a8a"/>
<circle cx="374.6" cy="249.3" r="4.1" fill="#1f4a8a"/>
<circle cx="374.6" cy="254.3" r="4.1" fill="#1f4a8a"/>
<circle cx="369.1" cy="242.7" r="4.1" fill="#1a3d7c"/>
<circle cx="377.3" cy="228.5" r="4.1" fill="#1f4a8f"/>
<circle cx="379.1" cy="225" r="4.1" fill="#1f4a8f"/>
<circle cx="393.4" cy="225.3" r="4.1" fill="#3a78b8"/>
<circle cx="389.9" cy="225.3" r="4.1" fill="#4a8cc8"/>
<circle cx="409.6" cy="225.6" r="4.1" fill="#a8cce6"/>
<circle cx="407.2" cy="225" r="4.1" fill="#d0e2f2"/>
<circle cx="408.6" cy="276.5" r="4.1" fill="#7fb6dc"/>
<circle cx="400.2" cy="296.2" r="4.1" fill="#c8def0"/>
<path d="M314.2 343.3 L323.6 307.4 L331.4 307.4 L340.2 302.0 L354.5 302.0 L359.4 289.0 L365.3 284.0 L370.4 280.5 L374.6 267.0 L375.5 255.0 L385.1 254.8 L390.4 244.7 L409.0 244.7 L409.6 225.6" fill="none" stroke="#111" stroke-width="1.4" stroke-linejoin="round" stroke-linecap="round" stroke-dasharray="5.3 2.3" stroke-linecap="butt"/>
<path d="M309.10 219.50 L309.10 350.40 L414.80 350.40" fill="none" stroke="#000" stroke-width="1.25" stroke-linejoin="miter" stroke-linecap="butt"/>
<line x1="306.80" y1="343.70" x2="309.10" y2="343.70" stroke="#000" stroke-width="1.1" />
<line x1="306.80" y1="320.10" x2="309.10" y2="320.10" stroke="#000" stroke-width="1.1" />
<line x1="306.80" y1="296.50" x2="309.10" y2="296.50" stroke="#000" stroke-width="1.1" />
<line x1="306.80" y1="272.90" x2="309.10" y2="272.90" stroke="#000" stroke-width="1.1" />
<line x1="306.80" y1="249.30" x2="309.10" y2="249.30" stroke="#000" stroke-width="1.1" />
<line x1="306.80" y1="225.70" x2="309.10" y2="225.70" stroke="#000" stroke-width="1.1" />
<line x1="333.30" y1="350.40" x2="333.30" y2="352.70" stroke="#000" stroke-width="1.1" />
<line x1="369.90" y1="350.40" x2="369.90" y2="352.70" stroke="#000" stroke-width="1.1" />
<line x1="406.50" y1="350.40" x2="406.50" y2="352.70" stroke="#000" stroke-width="1.1" />
<text x="288.06" y="347.40" font-size="10.20" font-weight="normal" font-style="normal" fill="#141414" textLength="14.51" lengthAdjust="spacingAndGlyphs" stroke="#141414" stroke-width="0.14">0.0</text>
<text x="288.39" y="323.80" font-size="10.20" font-weight="normal" font-style="normal" fill="#141414" textLength="14.32" lengthAdjust="spacingAndGlyphs" stroke="#141414" stroke-width="0.14">0.2</text>
<text x="287.96" y="300.20" font-size="10.20" font-weight="normal" font-style="normal" fill="#141414" textLength="14.55" lengthAdjust="spacingAndGlyphs" stroke="#141414" stroke-width="0.14">0.4</text>
<text x="288.01" y="276.60" font-size="10.20" font-weight="normal" font-style="normal" fill="#141414" textLength="14.61" lengthAdjust="spacingAndGlyphs" stroke="#141414" stroke-width="0.14">0.6</text>
<text x="288.06" y="253.00" font-size="10.20" font-weight="normal" font-style="normal" fill="#141414" textLength="14.56" lengthAdjust="spacingAndGlyphs" stroke="#141414" stroke-width="0.14">0.8</text>
<text x="288.12" y="229.40" font-size="10.20" font-weight="normal" font-style="normal" fill="#141414" textLength="14.45" lengthAdjust="spacingAndGlyphs" stroke="#141414" stroke-width="0.14">1.0</text>
<text x="326.06" y="364.30" font-size="10.20" font-weight="normal" font-style="normal" fill="#141414" textLength="14.37" lengthAdjust="spacingAndGlyphs" stroke="#141414" stroke-width="0.14">2.5</text>
<text x="362.67" y="364.30" font-size="10.20" font-weight="normal" font-style="normal" fill="#141414" textLength="14.41" lengthAdjust="spacingAndGlyphs" stroke="#141414" stroke-width="0.14">5.0</text>
<text x="399.29" y="364.30" font-size="10.20" font-weight="normal" font-style="normal" fill="#141414" textLength="14.32" lengthAdjust="spacingAndGlyphs" stroke="#141414" stroke-width="0.14">7.5</text>
<g transform="translate(283.10 381.40) scale(1.0978 1)"><text x="-1.71 7.03 13.94 20.79 28.50 32.77 38.57 46.56 49.67 53.51 60.87 68.37 71.55 79.41 83.62 86.83 95.07 99.28 103.46 107.90 114.91 124.07 132.29 136.75" y="0" font-size="13.40" font-weight="normal" font-style="normal" fill="#141414" stroke="#141414" stroke-width="0.14">Reversal point at reward</text></g>
<g transform="translate(280.80 321.90) rotate(-90) scale(1.0947 1)"><text x="-1.38 7.70 15.53 20.46 24.77 31.68 38.92 43.20 50.61" y="0" font-size="13.40" font-weight="normal" font-style="normal" fill="#141414" stroke="#141414" stroke-width="0.14">Corrected</text></g>
<g transform="translate(281.00 252.90) rotate(-90) scale(1.000)" fill="none" stroke="#141414" stroke-linecap="round" stroke-linejoin="round"><path d="M0 0 L2.4 -9.2" stroke-width="1.3"/><path d="M8.6 -8.6 L3.6 -5.5" stroke-width="0.9"/><circle cx="8.6" cy="-8.6" r="0.95" fill="#141414" stroke="none"/><path d="M3.8 -5.3 C6.0 -4.6 9.4 -3.2 9.6 -1.7 C9.8 -0.3 8.4 0.2 7.5 -0.3" stroke-width="0.9"/></g>
<g transform="translate(442.30 320.90) rotate(-90) scale(1.0803 1)"><text x="-1.37 7.75 15.27 23.15 27.23 30.44 38.08 45.58 52.92 59.77" y="0" font-size="13.40" font-weight="normal" font-style="normal" fill="#141414" stroke="#141414" stroke-width="0.14">Confidence</text></g>
<g transform="translate(354.00 215.00) scale(1.0978 1)"><text x="-1.16 1.98 7.74 14.84 18.65 25.44 32.41 35.08 41.23 45.09 49.17 55.63 62.91 66.99 73.29 78.95 84.93 87.73 94.51" y="0" font-size="12.20" font-weight="normal" font-style="normal" fill="#141414" stroke="#141414" stroke-width="0.14">Isotonic regression</text></g>
<line x1="320.1" y1="210.5" x2="343.8" y2="210.5" stroke="#111" stroke-width="1.4" stroke-dasharray="5.3 2.3"/>
<defs><linearGradient id="gB" x1="0" y1="1" x2="0" y2="0"><stop offset="0.000" stop-color="#f7fbff"/><stop offset="0.125" stop-color="#deebf7"/><stop offset="0.250" stop-color="#c6dbef"/><stop offset="0.375" stop-color="#9ecae1"/><stop offset="0.500" stop-color="#6baed6"/><stop offset="0.625" stop-color="#4292c6"/><stop offset="0.750" stop-color="#2171b5"/><stop offset="0.875" stop-color="#08519c"/><stop offset="1.000" stop-color="#08306b"/></linearGradient><linearGradient id="gP" x1="0" y1="1" x2="0" y2="0"><stop offset="0.000" stop-color="#fcfbfd"/><stop offset="0.125" stop-color="#efedf5"/><stop offset="0.250" stop-color="#dadaeb"/><stop offset="0.375" stop-color="#bcbddc"/><stop offset="0.500" stop-color="#9e9ac8"/><stop offset="0.625" stop-color="#807dba"/><stop offset="0.750" stop-color="#6a51a3"/><stop offset="0.875" stop-color="#54278f"/><stop offset="1.000" stop-color="#3f007d"/></linearGradient></defs>
<rect x="420.9" y="219.6" width="6.6" height="130.4" fill="url(#gB)" stroke="#222" stroke-width="0.8"/>
<circle cx="555.7" cy="341.9" r="4.1" fill="#a8a6d0"/>
<circle cx="576.4" cy="315.5" r="4.1" fill="#a09ecf"/>
<circle cx="589.2" cy="343.9" r="4.1" fill="#fbfafd"/>
<circle cx="583.4" cy="300" r="4.1" fill="#dcdcec"/>
<circle cx="585.5" cy="293.1" r="4.1" fill="#6a58b0"/>
<circle cx="589" cy="296.4" r="4.1" fill="#4b1c96"/>
<circle cx="566.9" cy="275.8" r="4.1" fill="#8a86c4"/>
<circle cx="594" cy="277.5" r="4.1" fill="#aaa8d4"/>
<circle cx="598.5" cy="273.6" r="4.1" fill="#4b1c96"/>
<circle cx="601.2" cy="276.9" r="4.1" fill="#5a3aa4"/>
<circle cx="601.4" cy="325.7" r="4.1" fill="#e8e6f2"/>
<circle cx="605.4" cy="327.7" r="4.1" fill="#5a34a8"/>
<circle cx="611.5" cy="344.6" r="4.1" fill="#cfcfe6"/>
<circle cx="617.6" cy="321" r="4.1" fill="#4b1c96"/>
<circle cx="609.7" cy="297.3" r="4.1" fill="#e0e0ee"/>
<circle cx="608.4" cy="289.2" r="4.1" fill="#6a4cb0"/>
<circle cx="614.9" cy="291.2" r="4.1" fill="#7a6cb8"/>
<circle cx="614.9" cy="282.7" r="4.1" fill="#4b1c96"/>
<circle cx="619.4" cy="289.2" r="4.1" fill="#4b1c96"/>
<circle cx="625.3" cy="287.9" r="4.1" fill="#4b1c96"/>
<circle cx="625.9" cy="264.5" r="4.1" fill="#4b1c96"/>
<circle cx="651.2" cy="273" r="4.1" fill="#4b1c96"/>
<circle cx="620.1" cy="250.8" r="4.1" fill="#4b1c96"/>
<circle cx="609.7" cy="243.9" r="4.1" fill="#4b1c96"/>
<circle cx="601.2" cy="255.6" r="4.1" fill="#4b1c96"/>
<circle cx="589" cy="226.4" r="4.1" fill="#4b1c96"/>
<circle cx="612.3" cy="226.4" r="4.1" fill="#4b1c96"/>
<circle cx="609.1" cy="226.4" r="4.1" fill="#8a86c2"/>
<circle cx="620.1" cy="226.4" r="4.1" fill="#b0aed8"/>
<circle cx="629.9" cy="229.6" r="4.1" fill="#4b1c96"/>
<circle cx="645.7" cy="226.4" r="4.1" fill="#dcdcec"/>
<path d="M555.6 341.4 L566.8 297.0 L584.9 297.0 L588.5 293.0 L588.8 287.3 L607.7 287.3 L609.7 279.5 L618.8 279.5 L619.5 253.0 L626.0 251.7 L631.2 243.9 L651.3 243.9" fill="none" stroke="#111" stroke-width="1.4" stroke-linejoin="round" stroke-linecap="round" stroke-dasharray="5.3 2.3" stroke-linecap="butt"/>
<path d="M551.00 219.80 L551.00 351.10 L656.60 351.10" fill="none" stroke="#000" stroke-width="1.25" stroke-linejoin="miter" stroke-linecap="butt"/>
<line x1="548.70" y1="345.10" x2="551.00" y2="345.10" stroke="#000" stroke-width="1.1" />
<line x1="548.70" y1="321.48" x2="551.00" y2="321.48" stroke="#000" stroke-width="1.1" />
<line x1="548.70" y1="297.86" x2="551.00" y2="297.86" stroke="#000" stroke-width="1.1" />
<line x1="548.70" y1="274.24" x2="551.00" y2="274.24" stroke="#000" stroke-width="1.1" />
<line x1="548.70" y1="250.62" x2="551.00" y2="250.62" stroke="#000" stroke-width="1.1" />
<line x1="548.70" y1="227.00" x2="551.00" y2="227.00" stroke="#000" stroke-width="1.1" />
<line x1="569.35" y1="351.10" x2="569.35" y2="353.40" stroke="#000" stroke-width="1.1" />
<line x1="610.70" y1="351.10" x2="610.70" y2="353.40" stroke="#000" stroke-width="1.1" />
<line x1="652.05" y1="351.10" x2="652.05" y2="353.40" stroke="#000" stroke-width="1.1" />
<text x="529.86" y="348.60" font-size="10.20" font-weight="normal" font-style="normal" fill="#141414" textLength="14.51" lengthAdjust="spacingAndGlyphs" stroke="#141414" stroke-width="0.14">0.0</text>
<text x="530.19" y="324.98" font-size="10.20" font-weight="normal" font-style="normal" fill="#141414" textLength="14.32" lengthAdjust="spacingAndGlyphs" stroke="#141414" stroke-width="0.14">0.2</text>
<text x="529.76" y="301.36" font-size="10.20" font-weight="normal" font-style="normal" fill="#141414" textLength="14.55" lengthAdjust="spacingAndGlyphs" stroke="#141414" stroke-width="0.14">0.4</text>
<text x="529.81" y="277.74" font-size="10.20" font-weight="normal" font-style="normal" fill="#141414" textLength="14.61" lengthAdjust="spacingAndGlyphs" stroke="#141414" stroke-width="0.14">0.6</text>
<text x="529.86" y="254.12" font-size="10.20" font-weight="normal" font-style="normal" fill="#141414" textLength="14.56" lengthAdjust="spacingAndGlyphs" stroke="#141414" stroke-width="0.14">0.8</text>
<text x="529.92" y="230.50" font-size="10.20" font-weight="normal" font-style="normal" fill="#141414" textLength="14.45" lengthAdjust="spacingAndGlyphs" stroke="#141414" stroke-width="0.14">1.0</text>
<text x="562.11" y="364.80" font-size="10.20" font-weight="normal" font-style="normal" fill="#141414" textLength="14.37" lengthAdjust="spacingAndGlyphs" stroke="#141414" stroke-width="0.14">2.5</text>
<text x="603.47" y="364.80" font-size="10.20" font-weight="normal" font-style="normal" fill="#141414" textLength="14.41" lengthAdjust="spacingAndGlyphs" stroke="#141414" stroke-width="0.14">5.0</text>
<text x="644.84" y="364.80" font-size="10.20" font-weight="normal" font-style="normal" fill="#141414" textLength="14.32" lengthAdjust="spacingAndGlyphs" stroke="#141414" stroke-width="0.14">7.5</text>
<g transform="translate(535.80 380.80) scale(1.0956 1)"><text x="-1.70 7.06 13.99 20.86 28.59 32.88 38.69 46.70 49.81 53.67 61.05 68.57 71.76 79.64 83.86 87.09 95.34 99.56 103.12 109.89 117.39" y="0" font-size="13.40" font-weight="normal" font-style="normal" fill="#141414" stroke="#141414" stroke-width="0.14">Reversal point at cue</text></g>
<g transform="translate(522.70 321.90) rotate(-90) scale(1.0947 1)"><text x="-1.38 7.70 15.53 20.46 24.77 31.68 38.92 43.20 50.61" y="0" font-size="13.40" font-weight="normal" font-style="normal" fill="#141414" stroke="#141414" stroke-width="0.14">Corrected</text></g>
<g transform="translate(522.90 252.90) rotate(-90) scale(1.000)" fill="none" stroke="#141414" stroke-linecap="round" stroke-linejoin="round"><path d="M0 0 L2.4 -9.2" stroke-width="1.3"/><path d="M8.6 -8.6 L3.6 -5.5" stroke-width="0.9"/><circle cx="8.6" cy="-8.6" r="0.95" fill="#141414" stroke="none"/><path d="M3.8 -5.3 C6.0 -4.6 9.4 -3.2 9.6 -1.7 C9.8 -0.3 8.4 0.2 7.5 -0.3" stroke-width="0.9"/></g>
<g transform="translate(684.30 321.00) rotate(-90) scale(1.0818 1)"><text x="-1.37 7.75 15.27 23.15 27.23 30.44 38.08 45.58 52.92 59.77" y="0" font-size="13.40" font-weight="normal" font-style="normal" fill="#141414" stroke="#141414" stroke-width="0.14">Confidence</text></g>
<rect x="662.9" y="219.8" width="6.6" height="130.6" fill="url(#gP)" stroke="#222" stroke-width="0.8"/>
</svg></body></html>
